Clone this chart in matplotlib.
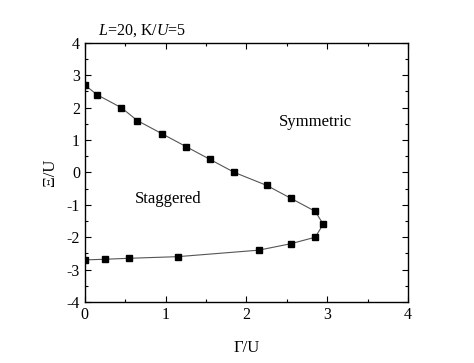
import matplotlib
matplotlib.use("Agg")
import matplotlib.pyplot as plt
from matplotlib.ticker import MultipleLocator

plt.rcParams['font.family'] = ['Liberation Serif', 'DejaVu Serif']
plt.rcParams['mathtext.fontset'] = 'custom'
plt.rcParams['mathtext.rm'] = 'Liberation Serif'
plt.rcParams['mathtext.it'] = 'Liberation Serif:italic'
plt.rcParams['axes.unicode_minus'] = False

# phase boundary, going down the upper branch then back along the lower one
gamma = [0.0, 0.15, 0.45, 0.65, 0.95, 1.25, 1.55, 1.85, 2.25, 2.55, 2.85,
         2.95, 2.85, 2.55, 2.15, 1.15, 0.55, 0.25, 0.0]
xi = [2.7, 2.4, 2.0, 1.6, 1.2, 0.8, 0.4, 0.0, -0.4, -0.8, -1.2,
      -1.6, -2.0, -2.2, -2.4, -2.6, -2.65, -2.68, -2.7]

fig = plt.figure(figsize=(4.74, 3.63), dpi=100)
ax = fig.add_axes([0.179, 0.168, 0.682, 0.714])

ax.plot(gamma, xi, color='#555555', lw=0.8, marker='s', ms=4.5,
        mfc='black', mec='black')

ax.set_xlim(0, 4)
ax.set_ylim(-4, 4)
ax.xaxis.set_major_locator(MultipleLocator(1))
ax.xaxis.set_minor_locator(MultipleLocator(0.5))
ax.yaxis.set_major_locator(MultipleLocator(1))
ax.yaxis.set_minor_locator(MultipleLocator(0.5))
ax.tick_params(which='both', direction='in', top=True, right=True,
               labelsize=11.5, width=0.8)
ax.tick_params(which='major', length=4)
ax.tick_params(which='minor', length=2.5)
for s in ax.spines.values():
    s.set_linewidth(1.0)

ax.set_xlabel('Γ/U', fontsize=12, labelpad=12)
ax.set_ylabel('Ξ/U', fontsize=12, labelpad=6)

ax.text(2.85, 1.55, 'Symmetric', fontsize=12, ha='center', va='center')
ax.text(1.03, -0.82, 'Staggered', fontsize=12, ha='center', va='center')
ax.text(0.04, 1.015, '$L$=20, K/$U$=5', transform=ax.transAxes,
        fontsize=11.5, ha='left', va='bottom')

fig.savefig('out.png', dpi=100)
